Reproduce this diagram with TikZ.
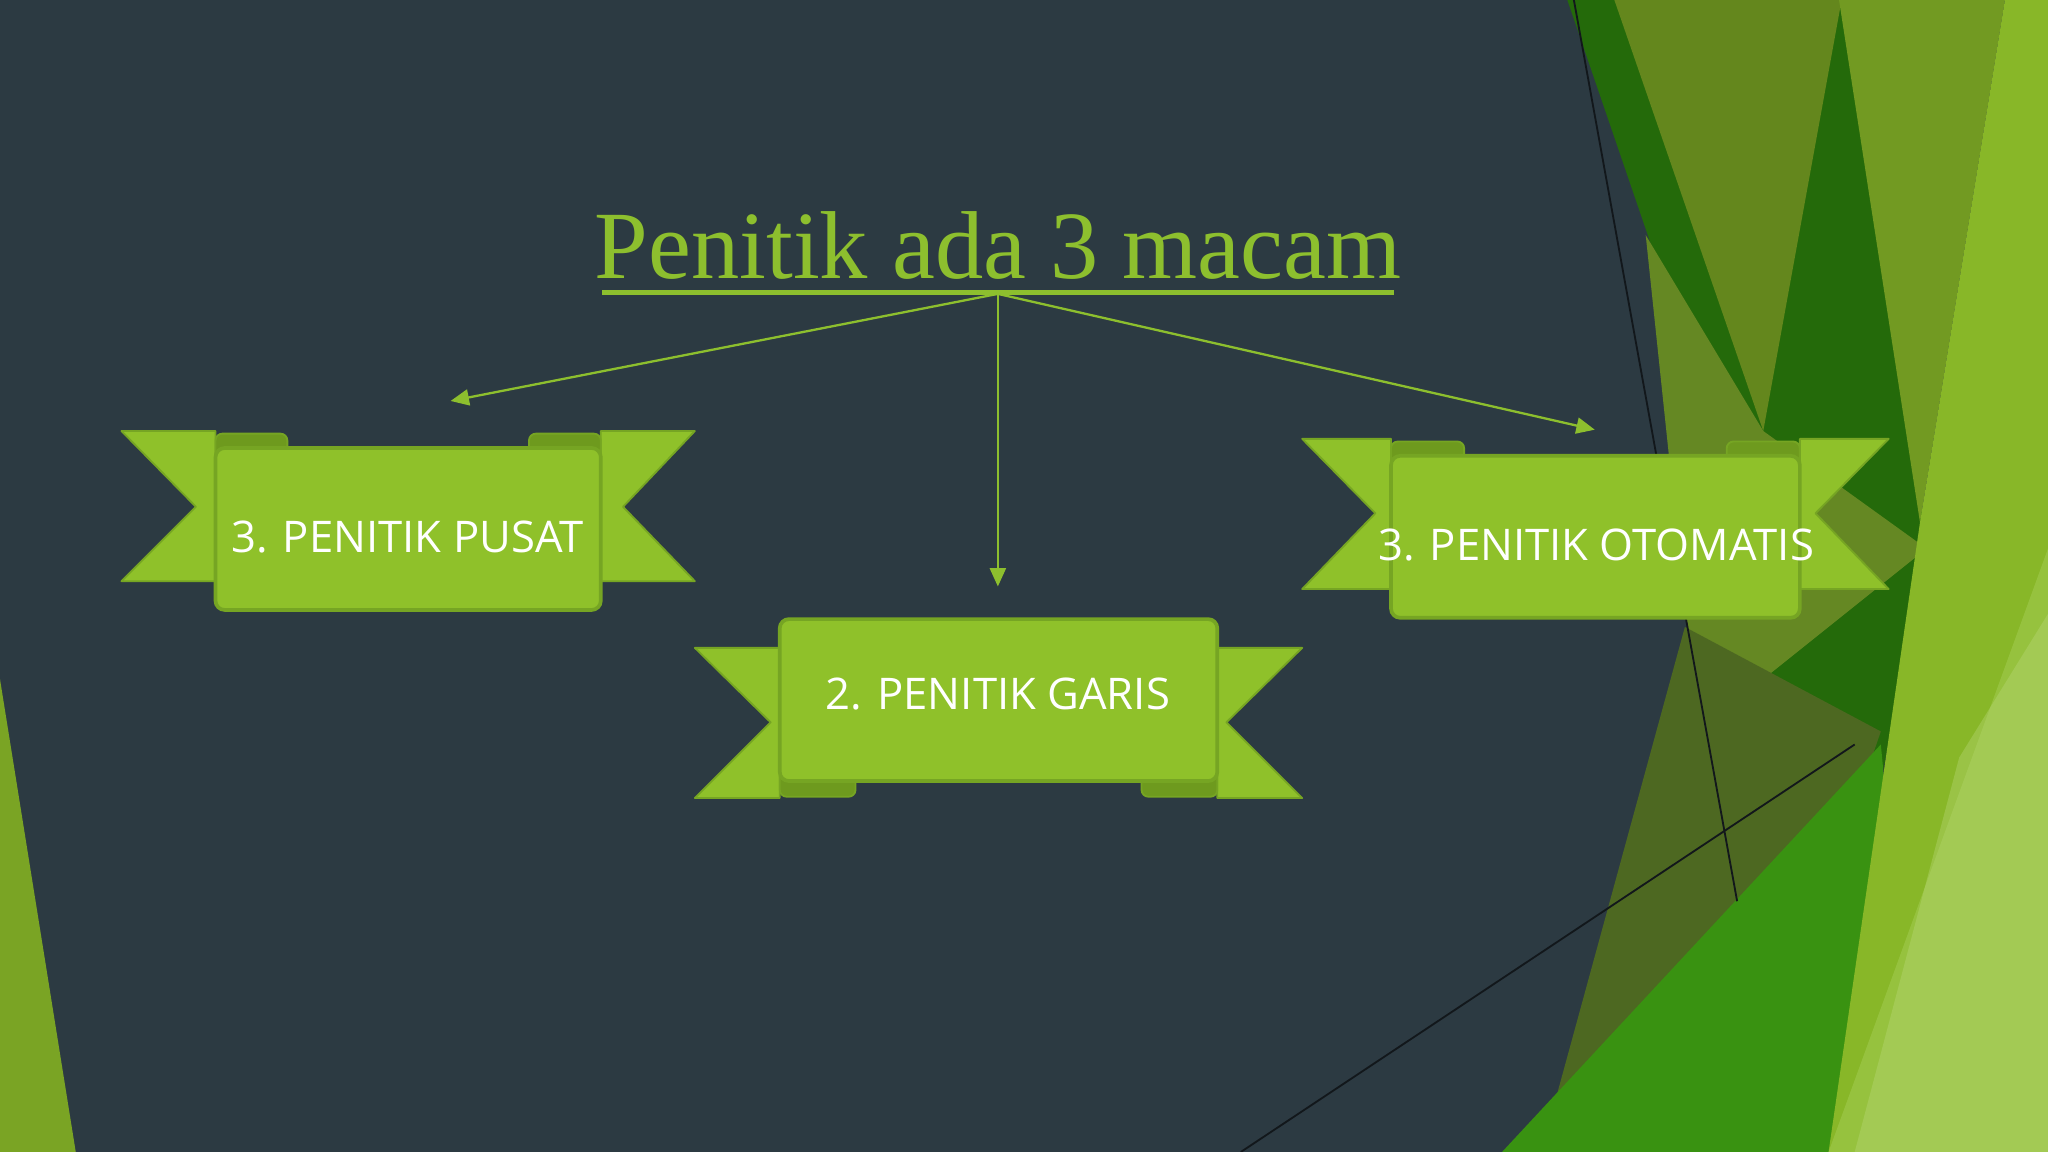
\documentclass[tikz,border=0pt]{standalone}
\usepackage{fontspec}
\setmainfont{Liberation Serif}
\setsansfont{Open Sans}
\usetikzlibrary{arrows.meta}
\definecolor{bg}{HTML}{2C3A42}
\definecolor{ttl}{HTML}{8DBF2E}
\definecolor{bn}{HTML}{8FC12A}
\definecolor{bnd}{HTML}{6E9A1E}
\definecolor{bne}{HTML}{76A523}
\tikzset{
  tailsh/.style={fill=bn, draw=bne, line width=0.4pt, line join=round},
  foldsh/.style={fill=bnd, draw=bne, line width=0.4pt, rounded corners=1.5},
  mainsh/.style={fill=bn, draw=bne, line width=0.8pt, rounded corners=2},
  btext/.style={text=white, font=\sffamily\fontsize{9.5}{11}\selectfont},
  conn/.style={draw=ttl, line width=0.5pt, -{Triangle[length=4pt,width=3.5pt]}}
}
\begin{document}
\begin{tikzpicture}[x=0.01cm,y=-0.01cm]
\useasboundingbox (0,0) rectangle (1568,882);
\fill[bg] (0,0) rectangle (1568,882);
% left green
\fill[color=bn!85!black] (0,520) -- (58,882) -- (0,882) -- cycle;
% right decorations
\fill[color=green!30!black!75!bn] (1200,0) -- (1420,0) -- (1475,420) -- (1430,650) -- (1300,570) -- (1265,190) -- cycle;
\fill[color=bn!70!black] (1236,0) -- (1410,0) -- (1350,330) -- cycle;
\fill[color=bn!75!black!90!bg] (1260,180) -- (1350,330) -- (1475,420) -- (1300,560) -- cycle;
\fill[color=bn!80!black] (1408,0) -- (1535,0) -- (1470,400) -- cycle;
\fill[color=bn!60!black!80!bg] (1290,480) -- (1440,560) -- (1330,882) -- (1180,882) -- cycle;
\fill[color=green!45!black!60!bn] (1150,882) -- (1440,570) -- (1470,882) -- cycle;
\fill[color=bn!95!black] (1535,0) -- (1568,0) -- (1568,882) -- (1400,882) -- (1470,400) -- cycle;
\fill[color=bn!80!white, opacity=0.5] (1568,420) -- (1568,882) -- (1400,882) -- cycle;
\fill[color=bn!60!white, opacity=0.35] (1500,580) -- (1568,470) -- (1568,882) -- (1420,882) -- cycle;
\draw[black!60!bg, line width=0.4pt] (1205,0) -- (1330,690);
\draw[black!60!bg, line width=0.4pt] (950,882) -- (1420,570);

% title
\node[font=\fontsize{21}{25}\selectfont, text=ttl, inner sep=0pt, anchor=base] (title) at (764,213) {Penitik ada 3 macam};
\draw[ttl, line width=1.2pt] (461,224) -- (1067,224);
\coordinate (hub) at (764,225);

% left banner
\fill[tailsh] (93,330) -- (165,330) -- (165,445) -- (93,445) -- (150,388) -- cycle;
\fill[tailsh] (532,330) -- (460,330) -- (460,445) -- (532,445) -- (477,388) -- cycle;
\draw[foldsh] (165,332) rectangle (220,354);
\draw[foldsh] (405,332) rectangle (460,354);
\draw[mainsh] (165,343) rectangle (460,467);
\node[btext] (b1) at (312,411) {3. PENITIK PUSAT};

% middle banner
\fill[tailsh] (532,496) -- (597,496) -- (597,611) -- (532,611) -- (590,553) -- cycle;
\fill[tailsh] (997,496) -- (932,496) -- (932,611) -- (997,611) -- (939,553) -- cycle;
\draw[foldsh] (597,589) rectangle (655,610);
\draw[foldsh] (874,589) rectangle (932,610);
\draw[mainsh] (597,474) rectangle (932,598);
\node[btext] (b2) at (764,531) {2. PENITIK GARIS};

% right banner
\fill[tailsh] (997,336) -- (1065,336) -- (1065,451) -- (997,451) -- (1053,393) -- cycle;
\fill[tailsh] (1446,336) -- (1378,336) -- (1378,451) -- (1446,451) -- (1390,393) -- cycle;
\draw[foldsh] (1065,338) rectangle (1121,360);
\draw[foldsh] (1322,338) rectangle (1378,360);
\draw[mainsh] (1065,349) rectangle (1378,473);
\node[btext] (b3) at (1222,417) {3. PENITIK OTOMATIS};

% connectors
\coordinate (t1) at (345,307);
\coordinate (t2) at (764,449);
\coordinate (t3) at (1221,329);
\draw[conn] (hub) -- (t1);
\draw[conn] (hub) -- (t2);
\draw[conn] (hub) -- (t3);
\end{tikzpicture}
\end{document}
